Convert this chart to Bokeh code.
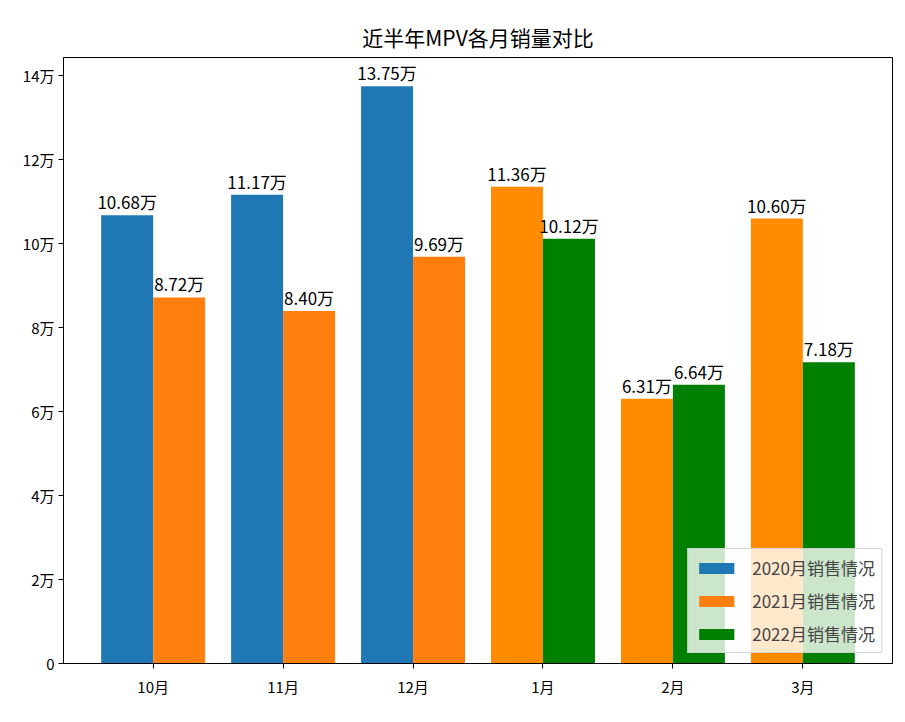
from bokeh.plotting import figure
from bokeh.models import ColumnDataSource, FixedTicker, Range1d, Legend, LegendItem, Title
from bokeh.core.properties import value
from bokeh.embed import file_html
from bokeh.resources import INLINE

months = ["10月", "11月", "12月", "1月", "2月", "3月"]
sales_2020 = [10.68, 11.17, 13.75]
sales_2021 = [8.72, 8.40, 9.69, 11.36, 6.31, 10.60]
sales_2022 = [10.12, 6.64, 7.18]
y_ticks = [0, 2, 4, 6, 8, 10, 12, 14]

FONT = "Noto Sans CJK SC"
W = 0.4

idx = list(range(len(months)))
x2020 = [i - 0.2 for i in idx[:3]]
x2021a = [i + 0.2 for i in idx[:3]]
x2021b = [i - 0.2 for i in idx[3:]]
x2022 = [i + 0.2 for i in idx[3:]]

p = figure(width=905, height=722, output_backend="svg", toolbar_location=None,
           x_range=Range1d(-0.69, 5.69), y_range=Range1d(0, 14.4375))
p.min_border_left = 63
p.min_border_right = 13
p.min_border_top = 57
p.min_border_bottom = 59

t = Title(text="近半年MPV各月销量对比", align="center", text_font=FONT,
          text_font_size="21px", text_font_style="normal", text_color="black", standoff=12)
p.add_layout(t, "above")

def labs(vals):
    return [f"{v:.2f}万" for v in vals]

s20 = ColumnDataSource(dict(x=x2020, top=sales_2020, lab=labs(sales_2020)))
s21a = ColumnDataSource(dict(x=x2021a, top=sales_2021[:3], lab=labs(sales_2021[:3])))
s21b = ColumnDataSource(dict(x=x2021b, top=sales_2021[3:], lab=labs(sales_2021[3:])))
s22 = ColumnDataSource(dict(x=x2022, top=sales_2022, lab=labs(sales_2022)))

r20 = p.vbar(x="x", top="top", width=W, source=s20, fill_color="#1f77b4", line_color=None)
r21a = p.vbar(x="x", top="top", width=W, source=s21a, fill_color="#ff7f0e", line_color=None)
r21b = p.vbar(x="x", top="top", width=W, source=s21b, fill_color="#ff8c00", line_color=None)
r22 = p.vbar(x="x", top="top", width=W, source=s22, fill_color="#008000", line_color=None)

for s in (s20, s21a, s21b, s22):
    p.text(x="x", y="top", text="lab", source=s, text_align="center", text_baseline="bottom",
           y_offset=-1, text_font_size="17px", text_color="black", text_font=value(FONT))

p.xaxis.ticker = FixedTicker(ticks=idx)
p.xaxis.major_label_overrides = {i: m for i, m in zip(idx, months)}
p.yaxis.ticker = FixedTicker(ticks=y_ticks)
p.yaxis.major_label_overrides = {v: ("0" if v == 0 else f"{v}万") for v in y_ticks}

for ax in (p.xaxis, p.yaxis):
    ax.major_label_text_font = FONT
    ax.major_label_text_font_size = "15px"
    ax.major_label_text_color = "black"
    ax.axis_line_color = "black"
    ax.major_tick_line_color = "black"
    ax.major_tick_in = 0
    ax.major_tick_out = 5
    ax.minor_tick_line_color = None
p.yaxis.major_label_standoff = 4
p.xaxis.major_label_standoff = 7

p.xgrid.grid_line_color = None
p.ygrid.grid_line_color = None
p.outline_line_color = "black"
p.outline_line_width = 1
p.background_fill_color = "white"

legend = Legend(items=[
    LegendItem(label="2020月销售情况", renderers=[r20]),
    LegendItem(label="2021月销售情况", renderers=[r21a]),
    LegendItem(label="2022月销售情况", renderers=[r22]),
], location="bottom_right")
legend.label_text_font = FONT
legend.label_text_font_size = "17px"
legend.glyph_width = 44
legend.glyph_height = 14
legend.label_height = 20
legend.spacing = 8
legend.padding = 6
legend.margin = 10
legend.label_standoff = 14
legend.background_fill_alpha = 0.8
legend.border_line_color = "#cccccc"
legend.border_line_alpha = 0.8
p.add_layout(legend)

open("out.html", "w").write(file_html(p, INLINE))
